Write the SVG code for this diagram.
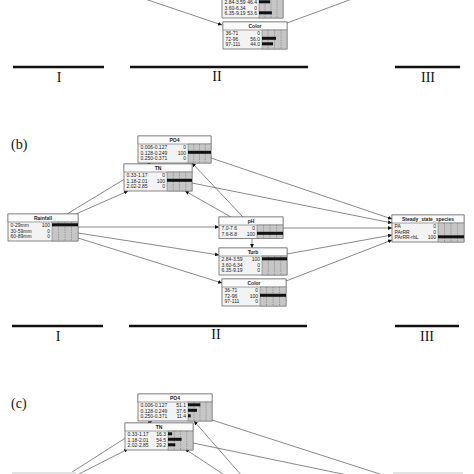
<svg xmlns="http://www.w3.org/2000/svg" width="474" height="474" viewBox="0 0 474 474">
<defs>
<marker id="ah" viewBox="0 0 6 6" refX="6" refY="3" markerWidth="4" markerHeight="4" markerUnits="userSpaceOnUse" orient="auto">
<path d="M0,0 L6,3 L0,6 Z" fill="#111"/>
</marker>
</defs>
<style>
.box{fill:#f3f3f3;stroke:#6a6a6a;stroke-width:0.8}
.hdr{fill:#fbfbfb;stroke:#6a6a6a;stroke-width:0.6}
.bg{fill:#c6c6c6;stroke:#6a6a6a;stroke-width:0.5}
.g{stroke:#444;stroke-width:0.5;stroke-dasharray:0.7 1}
.bar{fill:#111}
.t{font-family:"Liberation Sans",Arial,sans-serif;font-size:5px;fill:#222}
.ttl{font-weight:bold;text-anchor:middle}
.v{text-anchor:end}
.e{stroke:#555;stroke-width:0.7;fill:none;marker-end:url(#ah)}
.n{stroke:#555;stroke-width:0.7;fill:none}
.sec{stroke:#111;stroke-width:2.5}
.lab{font-family:"Liberation Serif","Times New Roman",serif;font-size:14px;fill:#111}
.part{fill:#e2e2e2}
</style>

<g id="connectors">
<line class="e" x1="142" y1="-2" x2="222" y2="25"/>
<line class="n" x1="287" y1="23" x2="352" y2="-1"/>
<line class="e" x1="67" y1="214" x2="151" y2="163"/>
<line class="e" x1="76" y1="214" x2="128" y2="191"/>
<line class="e" x1="78" y1="227" x2="219" y2="227"/>
<line class="e" x1="78" y1="233" x2="219" y2="255"/>
<line class="e" x1="78" y1="238" x2="222" y2="283"/>
<line class="e" x1="231" y1="217" x2="185" y2="191"/>
<line class="e" x1="243" y1="217" x2="192" y2="163"/>
<line class="e" x1="252" y1="238.5" x2="252" y2="248"/>
<line class="e" x1="211" y1="158" x2="392" y2="219"/>
<line class="e" x1="192" y1="183" x2="392" y2="223"/>
<line class="e" x1="283" y1="228" x2="392" y2="228"/>
<line class="e" x1="287" y1="254" x2="392" y2="235"/>
<line class="e" x1="286" y1="281" x2="392" y2="240"/>
<line class="e" x1="66" y1="476" x2="152" y2="421"/>
<line class="e" x1="75" y1="476" x2="128" y2="449"/>
<line class="e" x1="226" y1="476" x2="185" y2="449"/>
<line class="e" x1="242" y1="476" x2="194" y2="421"/>
<line class="n" x1="193" y1="443" x2="352" y2="476"/>
<line class="n" x1="212" y1="420" x2="386" y2="476"/>
</g>

<g id="a-turb" transform="translate(222,-9)">
<rect class="box" width="61" height="27"/><rect class="hdr" width="61" height="8"/>
<rect class="bg" x="37" y="8" width="24" height="19"/>
<line class="g" x1="43" y1="8" x2="43" y2="27"/><line class="g" x1="49" y1="8" x2="49" y2="27"/><line class="g" x1="55" y1="8" x2="55" y2="27"/>
<text class="t" x="2.5" y="13.3">2.84-3.59</text><text class="t v" x="35" y="13.3">46.4</text>
<text class="t" x="2.5" y="18.5">3.60-6.34</text><text class="t v" x="35" y="18.5">0</text>
<text class="t" x="2.5" y="24">6.35-9.19</text><text class="t v" x="35" y="24">53.6</text>
<rect class="bar" x="37" y="9.3" width="11.1" height="3"/>
<rect class="bar" x="37" y="20.3" width="12.9" height="3"/>
</g>

<g id="a-color" transform="translate(223,22)">
<rect class="box" width="64" height="27"/><rect class="hdr" width="64" height="8"/>
<text class="t ttl" x="32" y="6">Color</text>
<rect class="bg" x="39" y="8" width="25" height="19"/>
<line class="g" x1="45" y1="8" x2="45" y2="27"/><line class="g" x1="51.5" y1="8" x2="51.5" y2="27"/><line class="g" x1="58" y1="8" x2="58" y2="27"/>
<text class="t" x="2.5" y="13">36-71</text><text class="t v" x="37" y="13">0</text>
<text class="t" x="2.5" y="18.5">72-96</text><text class="t v" x="37" y="18.5">56.0</text>
<text class="t" x="2.5" y="24">97-111</text><text class="t v" x="37" y="24">44.0</text>
<rect class="bar" x="39" y="14.8" width="14" height="3"/>
<rect class="bar" x="39" y="20.3" width="11" height="3"/>
</g>

<g id="sections-a">
<line class="sec" x1="13" y1="67" x2="104" y2="67"/>
<line class="sec" x1="130" y1="67" x2="308" y2="67"/>
<line class="sec" x1="395" y1="67" x2="460" y2="67"/>
<text class="lab" x="59" y="82" text-anchor="middle">I</text>
<text class="lab" x="217" y="81" text-anchor="middle">II</text>
<text class="lab" x="428" y="82" text-anchor="middle">III</text>
</g>

<text class="lab" x="11" y="149">(b)</text>

<g id="b-po4" transform="translate(138,136)">
<rect class="box" width="73" height="27"/><rect class="hdr" width="73" height="8"/>
<text class="t ttl" x="36.5" y="6">PO4</text>
<rect class="bg" x="50" y="8" width="23" height="19"/>
<line class="g" x1="55.75" y1="8" x2="55.75" y2="27"/><line class="g" x1="61.5" y1="8" x2="61.5" y2="27"/><line class="g" x1="67.25" y1="8" x2="67.25" y2="27"/>
<text class="t" x="2.5" y="13">0.006-0.127</text><text class="t v" x="48" y="13">0</text>
<text class="t" x="2.5" y="18.5">0.128-0.249</text><text class="t v" x="48" y="18.5">100</text>
<text class="t" x="2.5" y="24">0.250-0.371</text><text class="t v" x="48" y="24">0</text>
<rect class="bar" x="50" y="14.8" width="23" height="3"/>
</g>

<g id="b-tn" transform="translate(124,164)">
<rect class="box" width="68" height="27"/><rect class="hdr" width="68" height="8"/>
<text class="t ttl" x="34" y="6">TN</text>
<rect class="bg" x="43" y="8" width="25" height="19"/>
<line class="g" x1="49.25" y1="8" x2="49.25" y2="27"/><line class="g" x1="55.5" y1="8" x2="55.5" y2="27"/><line class="g" x1="61.75" y1="8" x2="61.75" y2="27"/>
<text class="t" x="2.5" y="13">0.33-1.17</text><text class="t v" x="41" y="13">0</text>
<text class="t" x="2.5" y="18.5">1.18-2.01</text><text class="t v" x="41" y="18.5">100</text>
<text class="t" x="2.5" y="24">2.02-2.85</text><text class="t v" x="41" y="24">0</text>
<rect class="bar" x="43" y="14.8" width="25" height="3"/>
</g>

<g id="b-rainfall" transform="translate(8,214)">
<rect class="box" width="70" height="27"/><rect class="hdr" width="70" height="8"/>
<text class="t ttl" x="35" y="6">Rainfall</text>
<rect class="bg" x="44" y="8" width="26" height="19"/>
<line class="g" x1="50.5" y1="8" x2="50.5" y2="27"/><line class="g" x1="57" y1="8" x2="57" y2="27"/><line class="g" x1="63.5" y1="8" x2="63.5" y2="27"/>
<text class="t" x="2.5" y="13">0-29mm</text><text class="t v" x="42" y="13">100</text>
<text class="t" x="2.5" y="18.5">30-59mm</text><text class="t v" x="42" y="18.5">0</text>
<text class="t" x="2.5" y="24">60-89mm</text><text class="t v" x="42" y="24">0</text>
<rect class="bar" x="44" y="9.3" width="26" height="3"/>
</g>

<g id="b-ph" transform="translate(219,217)">
<rect class="box" width="64" height="21.5"/><rect class="hdr" width="64" height="8"/>
<text class="t ttl" x="32" y="6">pH</text>
<rect class="bg" x="38" y="8" width="26" height="13.5"/>
<line class="g" x1="44.5" y1="8" x2="44.5" y2="21.5"/><line class="g" x1="51" y1="8" x2="51" y2="21.5"/><line class="g" x1="57.5" y1="8" x2="57.5" y2="21.5"/>
<text class="t" x="2.5" y="13">7.0-7.6</text><text class="t v" x="36" y="13">0</text>
<text class="t" x="2.5" y="18.5">7.6-8.8</text><text class="t v" x="36" y="18.5">100</text>
<rect class="bar" x="38" y="14.8" width="26" height="3"/>
</g>

<g id="b-turb" transform="translate(219,248)">
<rect class="box" width="68" height="27"/><rect class="hdr" width="68" height="8"/>
<text class="t ttl" x="34" y="6">Turb</text>
<rect class="bg" x="43" y="8" width="25" height="19"/>
<line class="g" x1="49.25" y1="8" x2="49.25" y2="27"/><line class="g" x1="55.5" y1="8" x2="55.5" y2="27"/><line class="g" x1="61.75" y1="8" x2="61.75" y2="27"/>
<text class="t" x="2.5" y="13">2.84-3.59</text><text class="t v" x="41" y="13">100</text>
<text class="t" x="2.5" y="18.5">3.60-6.34</text><text class="t v" x="41" y="18.5">0</text>
<text class="t" x="2.5" y="24">6.35-9.19</text><text class="t v" x="41" y="24">0</text>
<rect class="bar" x="43" y="9.3" width="25" height="3"/>
</g>

<g id="b-color" transform="translate(222,279)">
<rect class="box" width="64" height="27"/><rect class="hdr" width="64" height="8"/>
<text class="t ttl" x="32" y="6">Color</text>
<rect class="bg" x="38" y="8" width="26" height="19"/>
<line class="g" x1="44.5" y1="8" x2="44.5" y2="27"/><line class="g" x1="51" y1="8" x2="51" y2="27"/><line class="g" x1="57.5" y1="8" x2="57.5" y2="27"/>
<text class="t" x="2.5" y="13">36-71</text><text class="t v" x="36" y="13">0</text>
<text class="t" x="2.5" y="18.5">72-96</text><text class="t v" x="36" y="18.5">100</text>
<text class="t" x="2.5" y="24">97-111</text><text class="t v" x="36" y="24">0</text>
<rect class="bar" x="38" y="14.8" width="26" height="3"/>
</g>

<g id="b-steady" transform="translate(392,215)">
<rect class="box" width="72" height="27"/><rect class="hdr" width="72" height="8"/>
<text class="t ttl" x="36" y="6">Steady_state_species</text>
<rect class="bg" x="46" y="8" width="26" height="19"/>
<line class="g" x1="52.5" y1="8" x2="52.5" y2="27"/><line class="g" x1="59" y1="8" x2="59" y2="27"/><line class="g" x1="65.5" y1="8" x2="65.5" y2="27"/>
<text class="t" x="2.5" y="13">PA</text><text class="t v" x="44" y="13">0</text>
<text class="t" x="2.5" y="18.5">PArRR</text><text class="t v" x="44" y="18.5">0</text>
<text class="t" x="2.5" y="24">PArRR-rbL</text><text class="t v" x="44" y="24">100</text>
<rect class="bar" x="46" y="20.3" width="26" height="3"/>
</g>

<g id="sections-b">
<line class="sec" x1="12" y1="326" x2="103" y2="326"/>
<line class="sec" x1="129" y1="326" x2="307" y2="326"/>
<line class="sec" x1="395" y1="326" x2="459" y2="326"/>
<text class="lab" x="58" y="341" text-anchor="middle">I</text>
<text class="lab" x="216" y="339" text-anchor="middle">II</text>
<text class="lab" x="427" y="341" text-anchor="middle">III</text>
</g>

<text class="lab" x="11" y="408">(c)</text>

<g id="c-po4" transform="translate(138,394)">
<rect class="box" width="74" height="27"/><rect class="hdr" width="74" height="8"/>
<text class="t ttl" x="37" y="6">PO4</text>
<rect class="bg" x="50" y="8" width="24" height="19"/>
<line class="g" x1="56" y1="8" x2="56" y2="27"/><line class="g" x1="62" y1="8" x2="62" y2="27"/><line class="g" x1="68" y1="8" x2="68" y2="27"/>
<text class="t" x="2.5" y="13">0.006-0.127</text><text class="t v" x="48" y="13">51.1</text>
<text class="t" x="2.5" y="18.5">0.128-0.249</text><text class="t v" x="48" y="18.5">37.6</text>
<text class="t" x="2.5" y="24">0.250-0.371</text><text class="t v" x="48" y="24">11.4</text>
<rect class="bar" x="50" y="9.3" width="12.3" height="3"/>
<rect class="bar" x="50" y="14.8" width="9" height="3"/>
<rect class="bar" x="50" y="20.3" width="2.7" height="3"/>
</g>

<g id="c-tn" transform="translate(125,423)">
<rect class="box" width="68" height="27"/><rect class="hdr" width="68" height="8"/>
<text class="t ttl" x="34" y="6">TN</text>
<rect class="bg" x="43" y="8" width="25" height="19"/>
<line class="g" x1="49.25" y1="8" x2="49.25" y2="27"/><line class="g" x1="55.5" y1="8" x2="55.5" y2="27"/><line class="g" x1="61.75" y1="8" x2="61.75" y2="27"/>
<text class="t" x="2.5" y="13">0.33-1.17</text><text class="t v" x="41" y="13">16.3</text>
<text class="t" x="2.5" y="18.5">1.18-2.01</text><text class="t v" x="41" y="18.5">54.5</text>
<text class="t" x="2.5" y="24">2.02-2.85</text><text class="t v" x="41" y="24">29.2</text>
<rect class="bar" x="43" y="9.3" width="4.1" height="3"/>
<rect class="bar" x="43" y="14.8" width="13.6" height="3"/>
<rect class="bar" x="43" y="20.3" width="7.3" height="3"/>
</g>

<g id="c-rainfall"><rect class="part" x="12" y="472" width="64" height="10"/></g>
<g id="c-steady"><rect class="part" x="393" y="472" width="70" height="10"/></g>
</svg>
